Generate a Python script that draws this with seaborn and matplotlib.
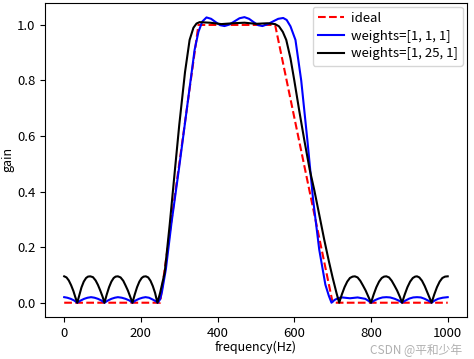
import seaborn as sns
import matplotlib.pyplot as plt

plt.rcParams['font.family'] = ['Noto Sans CJK SC', 'DejaVu Sans']

# ideal band response
ideal_freq = [0, 250, 350, 550, 700, 1000]
ideal_gain = [0, 0, 1, 1, 0, 0]

# weights=[1, 1, 1]
w1_freq = [0, 8, 17, 26, 34, 43, 52, 61, 70, 79, 88, 97, 105, 114, 123, 132, 140, 150, 160, 170, 178,
           186, 195, 204, 212, 221, 230, 238, 244, 250, 255, 265, 280, 300, 320, 340, 350, 360, 371,
           383, 395, 407, 418, 430, 443, 457, 470, 482, 494, 506, 517, 531, 545, 558, 571, 580, 590,
           603, 618, 634, 649, 665, 681, 690, 697, 705, 715, 725, 745, 765, 785, 792, 800, 810, 820,
           830, 840, 850, 862, 872, 881, 890, 900, 910, 920, 930, 940, 950, 958, 966, 975, 987, 1000]
w1_gain = [0.020, 0.018, 0.014, 0.008, 0.0, 0.008, 0.014, 0.018, 0.020, 0.018, 0.014, 0.008, 0.0,
           0.008, 0.014, 0.018, 0.020, 0.018, 0.014, 0.008, 0.0, 0.008, 0.014, 0.018, 0.020, 0.018,
           0.012, 0.006, 0.0, 0.012, 0.04, 0.12, 0.29, 0.49, 0.70, 0.91, 0.975, 1.012, 1.027,
           1.022, 1.010, 0.999, 0.996, 1.001, 1.012, 1.024, 1.028, 1.022, 1.010, 0.999, 0.996, 1.003,
           1.013, 1.022, 1.025, 1.018, 0.995, 0.946, 0.80, 0.586, 0.371, 0.191, 0.065, 0.025, 0.0,
           0.010, 0.017, 0.019, 0.016, 0.019, 0.014, 0.008, 0.0, 0.009, 0.015, 0.019, 0.020, 0.019,
           0.014, 0.008, 0.0, 0.008, 0.015, 0.019, 0.020, 0.019, 0.014, 0.007, 0.0, 0.008, 0.014,
           0.018, 0.020]

# weights=[1, 25, 1]
w25_freq = [0, 6, 12, 18, 24, 29, 34, 40, 45, 51, 57, 62, 68, 75, 82, 88, 94, 100, 105, 111, 117,
            123, 129, 134, 140, 147, 154, 160, 166, 172, 178, 184, 190, 196, 202, 207, 213, 219, 225,
            231, 237, 243, 250, 262, 275, 288, 300, 315, 327, 337, 345, 353, 380, 410, 440, 470, 500,
            530, 550, 560, 570, 579, 590, 600, 613, 626, 640, 652, 665, 678, 690, 700, 710, 717,
            724, 731, 738, 745, 752, 758, 765, 772, 779, 786, 793, 800, 807, 814, 821, 828, 834, 840,
            847, 854, 861, 868, 875, 881, 888, 895, 902, 909, 915, 920, 926, 933, 940, 946, 952, 958,
            965, 972, 979, 986, 993, 1000]
w25_gain = [0.095, 0.091, 0.080, 0.063, 0.042, 0.020, 0.0, 0.030, 0.055, 0.076, 0.089, 0.094, 0.095,
            0.092, 0.080, 0.064, 0.044, 0.022, 0.0, 0.030, 0.056, 0.076, 0.089, 0.094, 0.095, 0.091,
            0.079, 0.062, 0.044, 0.022, 0.0, 0.030, 0.056, 0.076, 0.089, 0.094, 0.095, 0.091, 0.079,
            0.060, 0.035, 0.0, 0.035, 0.108, 0.28, 0.468, 0.64, 0.83, 0.946, 0.99, 1.005, 1.010,
            1.008, 1.003, 1.006, 1.008, 1.004, 1.006, 1.003, 0.995, 0.975, 0.946, 0.88, 0.80, 0.69,
            0.586, 0.48, 0.406, 0.317, 0.227, 0.15, 0.09, 0.035, 0.0, 0.030, 0.056, 0.076, 0.089,
            0.094, 0.095, 0.091, 0.079, 0.062, 0.044, 0.022, 0.0, 0.030, 0.056, 0.076, 0.089, 0.094,
            0.095, 0.091, 0.079, 0.062, 0.044, 0.022, 0.0, 0.030, 0.056, 0.076, 0.089, 0.094, 0.095,
            0.091, 0.079, 0.060, 0.040, 0.020, 0.0, 0.030, 0.056, 0.076, 0.089, 0.094, 0.095]

fig = plt.figure(figsize=(4.74, 3.59), dpi=100)
ax = fig.add_axes([0.095, 0.117, 0.89, 0.875])

sns.lineplot(x=ideal_freq, y=ideal_gain, ax=ax, color='r', linestyle='--', label='ideal')
sns.lineplot(x=w1_freq, y=w1_gain, ax=ax, color='b', label='weights=[1, 1, 1]')
sns.lineplot(x=w25_freq, y=w25_gain, ax=ax, color='k', label='weights=[1, 25, 1]')

ax.set_xlabel('frequency(Hz)', fontsize=9, labelpad=1)
ax.set_ylabel('gain', fontsize=9, labelpad=2)
ax.tick_params(labelsize=9.5)
ax.legend(loc='upper right', fontsize=9.5, handletextpad=0.5, borderaxespad=0.3,
          labelspacing=0.35)

# watermark
fig.text(0.975, 0.025, 'CSDN @平和少年', ha='right', va='center', fontsize=8.5, color='#b0b0b0')

fig.savefig('out.png', dpi=100)
